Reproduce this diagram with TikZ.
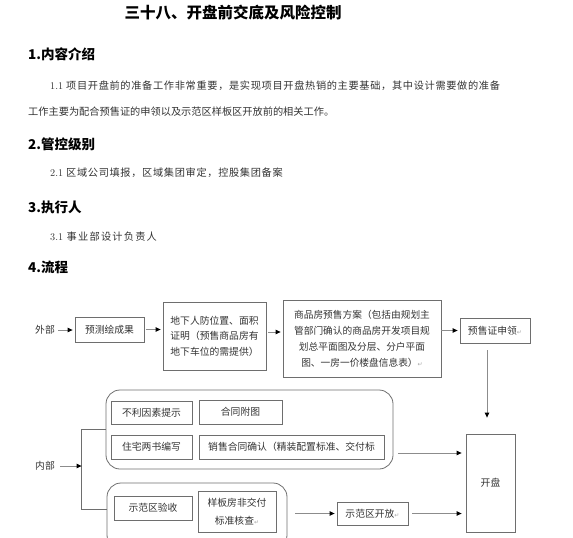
\documentclass[tikz,border=0pt]{standalone}
\usepackage{fontspec}
\usetikzlibrary{arrows.meta}
\newfontfamily\cjk{Noto Sans CJK SC}
\newfontfamily\dvs{DejaVu Sans}
\definecolor{boxline}{HTML}{6E6E6E}
\definecolor{arrline}{HTML}{8C8C8C}
\definecolor{txtgray}{HTML}{333333}
\newcommand{\retmark}{{\dvs\fontsize{6}{6}\selectfont\color{black!35}↵}}

\begin{document}
\begin{tikzpicture}[x=1pt,y=-1pt,
  font=\cjk,
  title/.style={font=\cjk\bfseries\fontsize{15.5}{18}\selectfont,inner sep=0pt},
  head/.style={font=\cjk\bfseries\fontsize{13.5}{15}\selectfont,anchor=west,inner sep=0pt},
  body/.style={font=\cjk\fontsize{10.2}{12}\selectfont,text=txtgray,anchor=west,inner sep=0pt},
  box/.style={draw=boxline,line width=0.8pt,inner sep=2pt,align=center,text=txtgray,
    font=\cjk\fontsize{9.8}{15.5}\selectfont},
  group/.style={draw=boxline,line width=0.8pt,rounded corners=14pt},
  side/.style={text=txtgray,font=\cjk\fontsize{9.8}{12}\selectfont},
  arr/.style={draw=arrline,line width=0.8pt,
    -{Triangle[length=5pt,width=4.5pt,color=black]},shorten <=2pt,shorten >=2pt},
  link/.style={draw=boxline,line width=0.8pt}
]
  \useasboundingbox (0,0) rectangle (573,538);

  % text part
  \node[title] (ttl) at (233,13) {三十八、开盘前交底及风险控制};
  \node[head] (h1) at (28,54) {1.内容介绍};
  \node[body,font={\cjk\fontsize{10.2}{12}\selectfont\addfontfeature{LetterSpace=6.5}}] (p1a) at (50,86)
    {{\rmfamily 1.1} 项目开盘前的准备工作非常重要，是实现项目开盘热销的主要基础，其中设计需要做的准备};
  \node[body] (p1b) at (28,112) {工作主要为配合预售证的申领以及示范区样板区开放前的相关工作。};
  \node[head] (h2) at (28,144) {2.管控级别};
  \node[body,font={\cjk\fontsize{10.2}{12}\selectfont\addfontfeature{LetterSpace=6.5}}] (p2) at (50,173)
    {{\rmfamily 2.1} 区域公司填报，区域集团审定，控股集团备案};
  \node[head] (h3) at (28,207) {3.执行人};
  \node[body,font={\cjk\fontsize{10.2}{12}\selectfont\addfontfeature{LetterSpace=12}}] (p3) at (50,237)
    {{\rmfamily 3.1} 事业部设计负责人};
  \node[head] (h4) at (28,267) {4.流程};

  % external chain
  \node[side] (wb) at (45,330) {外部};
  \node[box,minimum width=69pt,minimum height=25pt] (yc) at (109.5,329.5) {预测绘成果};
  \node[box,align=left,minimum width=103pt,minimum height=68pt] (dx) at (214.5,336)
    {地下人防位置、面积\\证明（预售商品房有\\地下车位的需提供）};
  \node[box,font=\cjk\fontsize{9.7}{16}\selectfont,minimum width=158pt,minimum height=77pt] (fa) at (362,338.5)
    {商品房预售方案（包括由规划主\\管部门确认的商品房开发项目规\\划总平面图及分层、分户平面\\图、一房一价楼盘信息表）\retmark};
  \node[box,minimum width=70pt,minimum height=25pt] (ys) at (495,330.5) {预售证申领\retmark};
  \draw[arr,shorten <=0pt] (wb) -- (wb -| yc.west);
  \draw[arr] (yc.east) -- (yc.east -| dx.west);
  \draw[arr] ([yshift=4pt]dx.east) -- ([yshift=4pt]dx.east -| fa.west);
  \draw[arr,shorten <=0pt] (fa.east |- ys.west) -- (ys.west);

  % opening
  \node[box,minimum width=49pt,minimum height=98pt] (kp) at (490.5,483) {开盘};
  \draw[arr,shorten <=0pt,shorten >=0pt] ([xshift=-8pt,yshift=-7pt]ys.south) -- ([xshift=-3.5pt,yshift=16pt]kp.north);

  % internal groups
  \node[group,minimum width=287pt,minimum height=79pt] (g1) at (249.5,429.5) {};
  \node[box,minimum width=81pt,minimum height=23pt] (blts) at (151.5,412.5) {不利因素提示};
  \node[box,minimum width=83pt,minimum height=24pt] (htft) at (240.5,412) {合同附图};
  \node[box,minimum width=81pt,minimum height=24pt] (zzls) at (151.5,447) {住宅两书编写};
  \node[box,minimum width=185pt,minimum height=24pt] (xsht) at (291.5,447) {销售合同确认（精装配置标准、交付标};

  \node[group,minimum width=180pt,minimum height=66pt] (g2) at (197,516) {};
  \node[box,minimum width=78pt,minimum height=24pt] (sfys) at (153,508) {示范区验收};
  \node[box,font=\cjk\fontsize{9.8}{18}\selectfont,minimum width=78pt,minimum height=41pt] (ybf) at (237,511.5)
    {样板房非交付\\标准核查\retmark};
  \node[box,minimum width=71pt,minimum height=23pt] (sfkf) at (372.5,513.5) {示范区开放\retmark};

  \coordinate (bk) at ([xshift=-24pt]g1.west);
  \draw[link] (g1.west) -- (bk) |- ([yshift=7pt]g2.west);
  \node[side] (nb) at (45,466) {内部};
  \draw[arr,shorten >=0pt] (nb) -- (nb -| bk);

  \draw[arr,shorten <=5pt,shorten >=4pt] ([yshift=-23.5pt]g1.east) -- ([yshift=-23.5pt]g1.east -| kp.west);
  \draw[arr,shorten <=8pt] (g2.east |- sfkf.west) -- (sfkf.west);
  \draw[arr,shorten <=4pt,shorten >=4pt] (sfkf.east) -- (sfkf.east -| kp.west);
\end{tikzpicture}
\end{document}
